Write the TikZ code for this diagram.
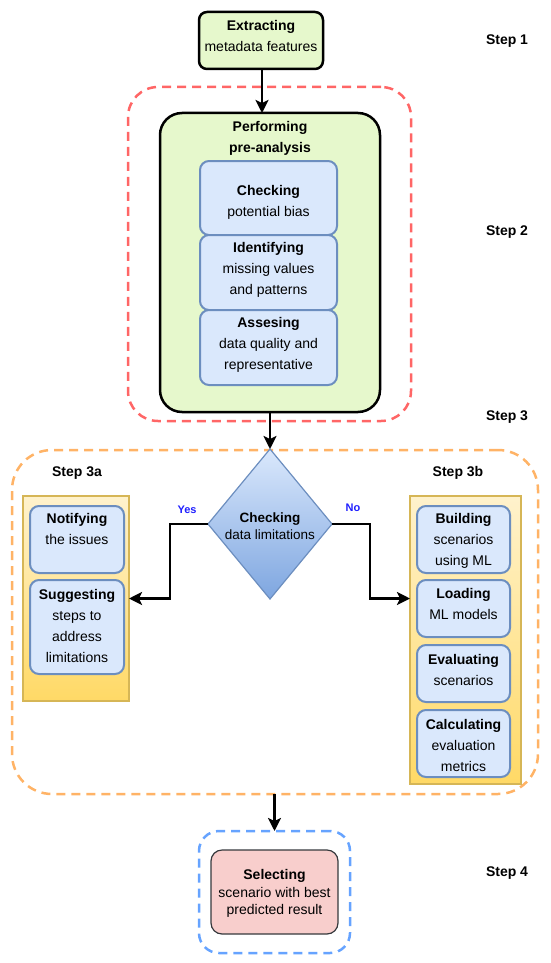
\documentclass[tikz,border=0pt]{standalone}
\usepackage{fontspec}
\setmainfont{Liberation Sans}
\usetikzlibrary{shapes.geometric,arrows.meta,fit}
\definecolor{gfill}{HTML}{E6F8CC}
\definecolor{bfill}{HTML}{DAE8FC}
\definecolor{bline}{HTML}{6C8EBF}
\definecolor{ytop}{HTML}{FFF2CC}
\definecolor{ybot}{HTML}{FFD966}
\definecolor{yline}{HTML}{D6B656}
\definecolor{dtop}{HTML}{DAE8FC}
\definecolor{dbot}{HTML}{7EA6E0}
\definecolor{reddash}{HTML}{FF6666}
\definecolor{orgdash}{HTML}{FFB366}
\definecolor{bluedash}{HTML}{66A3FF}
\definecolor{pfill}{HTML}{F8CECC}
\definecolor{pline}{HTML}{36393D}
\definecolor{lblblue}{HTML}{1F1FFF}
\tikzset{
  frame/.style={inner sep=0pt, outer sep=0pt},
  blackbox/.style={frame, draw=black, line width=2.5pt, fill=gfill},
  subbox/.style={frame, draw=bline, line width=2pt, fill=bfill, rounded corners=9pt},
  ybox/.style={frame, draw=yline, line width=1.3pt, top color=ytop, bottom color=ybot},
  dashbox/.style={frame, line width=2.5pt, dash pattern=on 9pt off 6pt},
  txt/.style={inner sep=0pt, align=center, font=\fontsize{14}{21}\selectfont},
  steplbl/.style={inner sep=0pt, font=\fontsize{14}{17}\selectfont\bfseries},
  yn/.style={inner sep=0pt, font=\fontsize{11}{13}\selectfont\bfseries, text=lblblue},
  conn/.style={line width=2.5pt, -{Stealth[length=13pt,width=13pt,inset=3pt]}}
}
\begin{document}
\begin{tikzpicture}[x=1pt,y=-1pt]
\useasboundingbox (0,0) rectangle (550,963);

% Step labels
\node[steplbl] (s1) at (507,41) {Step 1};
\node[steplbl] (s2) at (507,232) {Step 2};
\node[steplbl] (s3) at (507,417) {Step 3};
\node[steplbl] (s4) at (507,873) {Step 4};

% Step 1
\node[blackbox, rounded corners=8pt, fit={(199,12) (323,69)}] (ext) {};
\node[txt] (extt) at (261,36) {\textbf{Extracting}\\metadata features};

% Step 2
\node[dashbox, draw=reddash, rounded corners=30pt, fit={(128,87) (411,421)}] (redc) {};
\node[blackbox, rounded corners=22pt, fit={(160,113) (380,412)}] (big) {};
\node[txt] (bigt) at (270,138) {\textbf{Performing}\\\textbf{pre-analysis}};
\node[subbox, fit={(200,161) (337,235)}] (chk) {};
\node[txt] (chkt) at (268.5,202) {\textbf{Checking}\\potential bias};
\node[subbox, fit={(200,235) (337,310)}] (idf) {};
\node[txt] (idft) at (268.5,270) {\textbf{Identifying}\\missing values\\and patterns};
\node[subbox, fit={(200,310) (337,385)}] (ass) {};
\node[txt] (asst) at (268.5,344.5) {\textbf{Assesing}\\data quality and\\representative};

% Step 3
\node[dashbox, draw=orgdash, rounded corners=40pt, fit={(12,450) (538,794)}] (orgc) {};
\node[frame, shape=diamond, draw=bline, line width=1.2pt, top color=dtop, bottom color=dbot,
      minimum width=124pt, minimum height=150pt] (dia) at (270,524) {};
\node[inner sep=0pt, align=center, font=\fontsize{13.5}{16.5}\selectfont] (diat) at (270,526) {\textbf{Checking}\\data limitations};

\node[steplbl] (s3a) at (77,473) {Step 3a};
\node[steplbl] (s3b) at (458,473) {Step 3b};

\node[ybox, fit={(23,496) (129,701)}] (acont) {};
\node[subbox, fit={(30,506) (124,573)}] (noti) {};
\node[txt] (notit) at (77,529) {\textbf{Notifying}\\the issues};
\node[subbox, fit={(30,580) (124,674)}] (sugg) {};
\node[txt] (suggt) at (77,626) {\textbf{Suggesting}\\steps to\\address\\limitations};

\node[ybox, fit={(410,496) (521,784)}] (bcont) {};
\node[subbox, fit={(417,506) (510,573)}] (build) {};
\node[txt] (buildt) at (463.5,541) {\textbf{Building}\\scenarios\\using ML};
\node[subbox, fit={(417,580) (510,637)}] (load) {};
\node[txt] (loadt) at (463.5,604) {\textbf{Loading}\\ML models};
\node[subbox, fit={(417,645) (510,702)}] (eval) {};
\node[txt] (evalt) at (463.5,669.5) {\textbf{Evaluating}\\scenarios};
\node[subbox, fit={(417,710) (510,777)}] (calc) {};
\node[txt] (calct) at (463.5,745) {\textbf{Calculating}\\evaluation\\metrics};

\node[yn] (yes) at (187,510) {Yes};
\node[yn] (no) at (353,508) {No};

% Step 4
\node[dashbox, draw=bluedash, rounded corners=20pt, fit={(199,831) (350,953)}] (bluec) {};
\node[frame, draw=pline, line width=1.2pt, fill=pfill, rounded corners=11pt, fit={(211,850) (338,934)}] (sel) {};
\node[inner sep=0pt, align=center, font=\fontsize{14}{17.5}\selectfont] (selt) at (274.5,893.5) {\textbf{Selecting}\\scenario with best\\predicted result};

% connectors
\draw[conn] (ext.south -| 262,0) -- (262,0 |- big.north);
\draw[conn] (big.south) -- (dia.north);
\draw[conn] (dia.west) -- (170,0 |- dia.west) |- (acont.east);
\draw[conn] (dia.east) -- (370,0 |- dia.east) |- (bcont.west |- acont.east);
\draw[conn] (orgc.south -| bluec.north) -- (bluec.north);
\end{tikzpicture}
\end{document}
